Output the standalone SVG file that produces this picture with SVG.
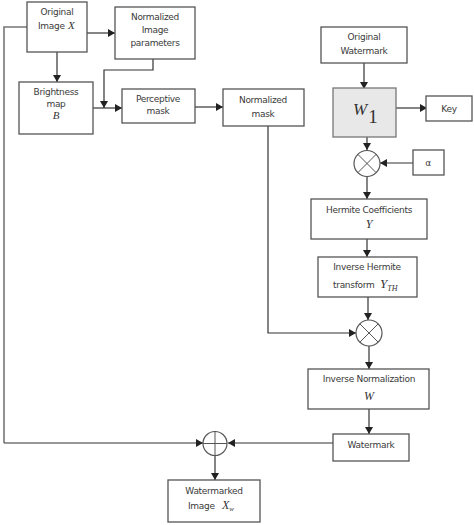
<svg xmlns="http://www.w3.org/2000/svg" width="474" height="525" viewBox="0 0 474 525">
<defs>
<marker id="ah" markerWidth="8" markerHeight="8" refX="7" refY="4" orient="auto" markerUnits="userSpaceOnUse">
<path d="M0,0 L7,4 L0,8 z" fill="#222"/>
</marker>
<style>
.box{fill:#fff;stroke:#555;stroke-width:1.3}
.t{font-family:"DejaVu Sans","Liberation Sans",sans-serif;font-size:9px;fill:#3a3a3a;text-anchor:middle;letter-spacing:-0.3px}
.s{text-anchor:start}
.m{font-family:"Liberation Serif",serif;font-style:italic;fill:#333}
.c{fill:none;stroke:#333;stroke-width:1.2}
.ca{fill:none;stroke:#333;stroke-width:1.2;marker-end:url(#ah)}
.op{fill:#fff;stroke:#555;stroke-width:1.2}
</style>
</defs>
<rect width="474" height="525" fill="#fff"/>
<g id="connectors">
<path class="ca" d="M87,33 H115"/>
<path class="ca" d="M57,52 V82"/>
<path class="ca" d="M93,108 H122"/>
<path class="ca" d="M153,59 V70 H104 V108"/>
<path class="ca" d="M195,107 H223"/>
<path class="c" d="M27,27 H4 V443" style="stroke:#777;stroke-width:1.6"/>
<path class="ca" d="M4,443 H203"/>
<path class="ca" d="M364,63 V89"/>
<path class="ca" d="M396,108 H427"/>
<path class="ca" d="M367,137 V150"/>
<path class="ca" d="M413,163 H380"/>
<path class="ca" d="M367,177 V199"/>
<path class="ca" d="M367,239 V257"/>
<path class="ca" d="M368,297 V320"/>
<path class="ca" d="M268,126 V333 H356"/>
<path class="ca" d="M369,346 V369"/>
<path class="ca" d="M369,409 V434"/>
<path class="ca" d="M333,443 H228"/>
<path class="ca" d="M215,455 V480"/>
</g>
<g id="original-image">
<rect class="box" x="27" y="2" width="60" height="50"/>
<text class="t" x="57" y="15">Original</text>
<text class="t s" x="38" y="29">Image <tspan class="m" x="68" font-size="11">X</tspan></text>
</g>
<g id="normalized-params">
<rect class="box" x="115" y="7" width="80" height="52"/>
<text class="t" x="155" y="20">Normalized</text>
<text class="t" x="155" y="33">Image</text>
<text class="t" x="155" y="46">parameters</text>
</g>
<g id="brightness-map">
<rect class="box" x="19" y="82" width="74" height="52"/>
<text class="t" x="56" y="95">Brightness</text>
<text class="t" x="56" y="107">map</text>
<text class="m" x="56" y="119" font-size="11" text-anchor="middle">B</text>
</g>
<g id="perceptive-mask">
<rect class="box" x="122" y="89" width="73" height="34"/>
<text class="t" x="158" y="102">Perceptive</text>
<text class="t" x="158" y="114">mask</text>
</g>
<g id="normalized-mask">
<rect class="box" x="223" y="89" width="81" height="37"/>
<text class="t" x="263" y="103">Normalized</text>
<text class="t" x="263" y="117">mask</text>
</g>
<g id="original-watermark">
<rect class="box" x="321" y="27" width="86" height="36"/>
<text class="t" x="364" y="40">Original</text>
<text class="t" x="364" y="54">Watermark</text>
</g>
<g id="w1">
<rect class="box" x="333" y="88" width="63" height="49" style="fill:#e8e8e8;stroke:#777"/>
<text class="m" x="360" y="115" font-size="17" text-anchor="middle">W</text>
<text x="373" y="123" font-family="Liberation Serif,serif" font-size="19" fill="#333" text-anchor="middle">1</text>
</g>
<g id="key">
<rect class="box" x="426" y="96" width="46" height="25"/>
<text class="t" x="449" y="112">Key</text>
</g>
<g id="mult1">
<circle class="op" cx="367" cy="163.5" r="13"/>
<path class="c" d="M357.8,154.3 L376.2,172.7 M376.2,154.3 L357.8,172.7" style="stroke:#555;stroke-width:1"/>
</g>
<g id="alpha">
<rect class="box" x="413" y="150" width="31" height="25"/>
<text class="t" x="428" y="166" font-family="Liberation Serif,serif">α</text>
</g>
<g id="hermite-coefficients">
<rect class="box" x="311" y="199" width="116" height="40"/>
<text class="t" x="369" y="213">Hermite Coefficients</text>
<text class="m" x="369" y="228" font-size="12" text-anchor="middle">Y</text>
</g>
<g id="inverse-hermite">
<rect class="box" x="318" y="257" width="99" height="40"/>
<text class="t" x="367" y="270">Inverse Hermite</text>
<text class="t s" x="333" y="288">transform<tspan class="m" x="380" font-size="13" letter-spacing="0">Y</tspan><tspan class="m" font-size="8" dy="3" letter-spacing="0">TH</tspan></text>
</g>
<g id="mult2">
<circle class="op" cx="369" cy="333" r="13"/>
<path class="c" d="M359.8,323.8 L378.2,342.2 M378.2,323.8 L359.8,342.2" style="stroke:#555;stroke-width:1"/>
</g>
<g id="inverse-normalization">
<rect class="box" x="308" y="369" width="121" height="40"/>
<text class="t" x="369" y="382">Inverse Normalization</text>
<text class="m" x="369" y="400" font-size="12" text-anchor="middle">W</text>
</g>
<g id="watermark">
<rect class="box" x="333" y="434" width="76" height="27"/>
<text class="t" x="371" y="448">Watermark</text>
</g>
<g id="add">
<circle class="op" cx="215" cy="443.5" r="12"/>
<path class="c" d="M203,443.5 H227 M215,431.5 V455.5" style="stroke:#555;stroke-width:1"/>
</g>
<g id="watermarked-image">
<rect class="box" x="168" y="480" width="92" height="42"/>
<text class="t" x="214" y="494">Watermarked</text>
<text class="t s" x="188" y="509">Image<tspan class="m" x="222" font-size="12" letter-spacing="0">X</tspan><tspan class="m" font-size="7" dy="2" letter-spacing="0">w</tspan></text>
</g>
</svg>
